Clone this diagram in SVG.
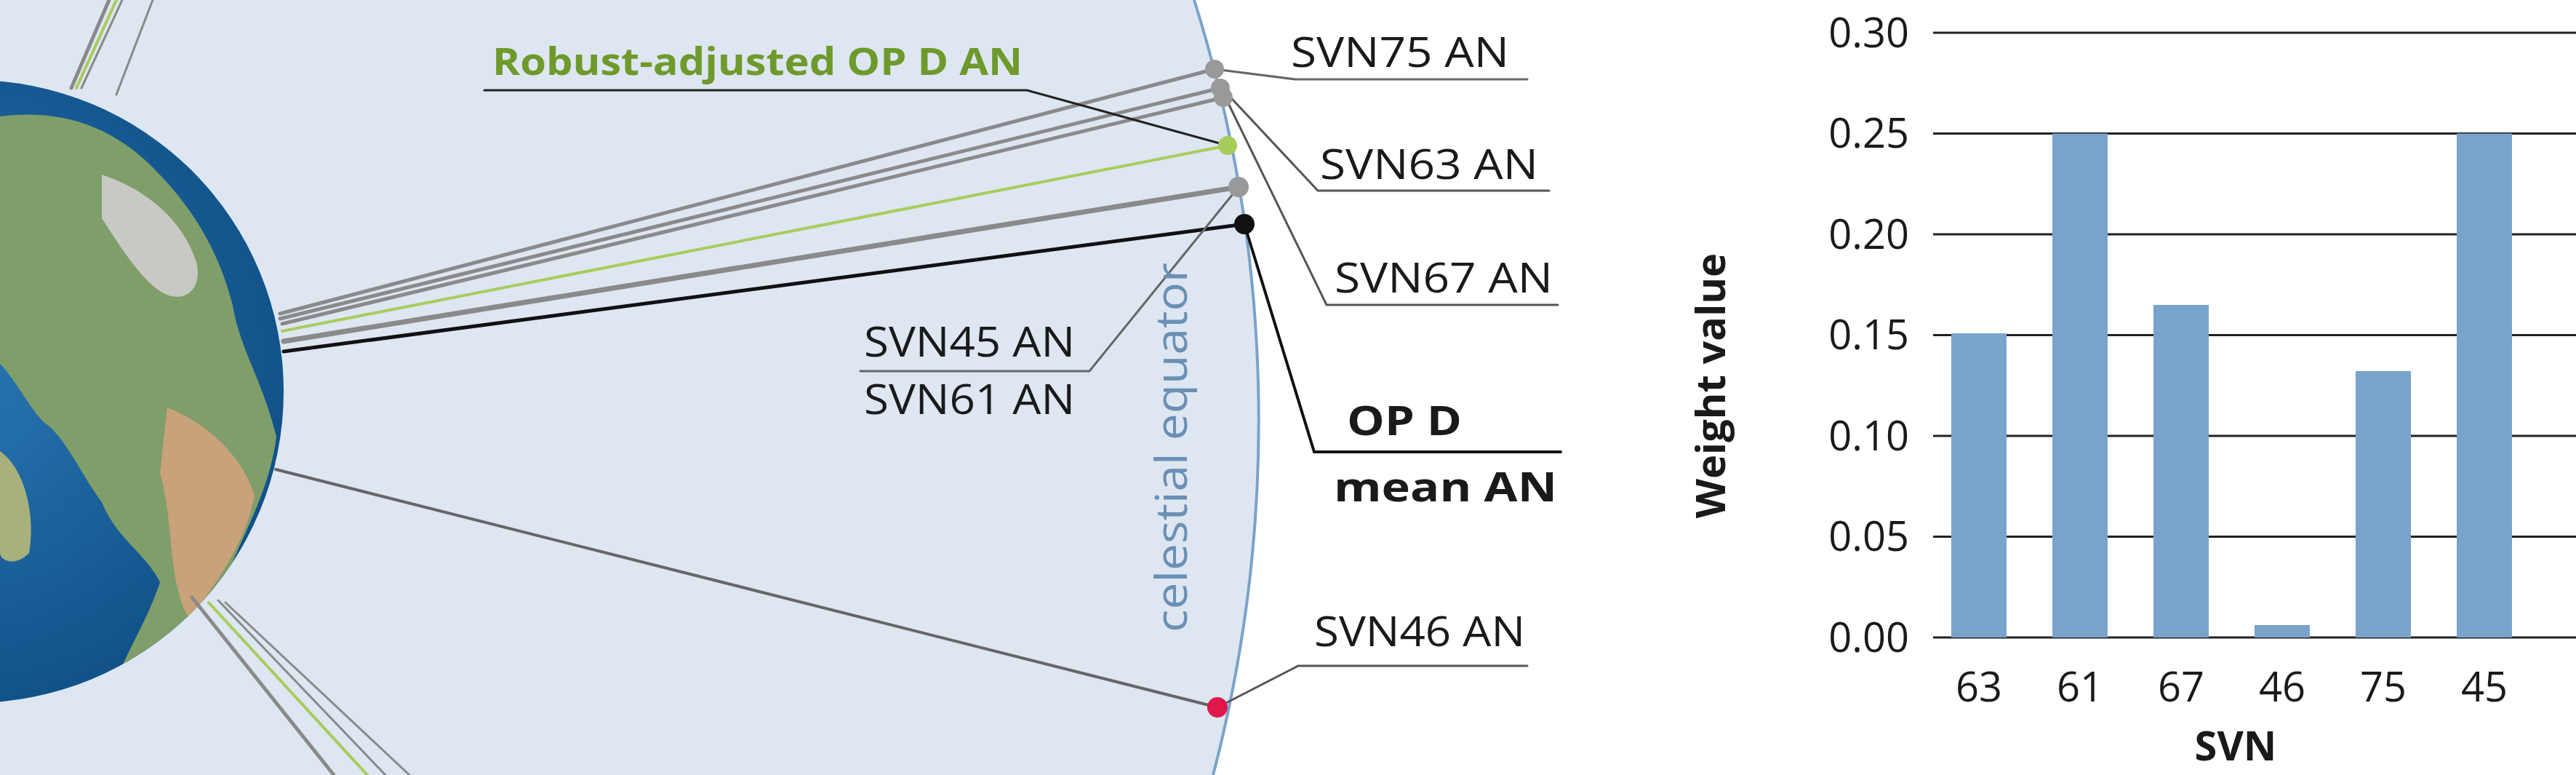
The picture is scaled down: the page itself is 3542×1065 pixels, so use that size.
<svg xmlns="http://www.w3.org/2000/svg" width="3542" height="1065" viewBox="0 0 3542 1065">
<defs>
<style>
.t{font-family:"Open Sans","Liberation Sans",sans-serif;fill:#1a1a1a}
.lbl{font-size:56px}
.b{font-weight:bold}
.ln{fill:none;stroke-linecap:round}
.g{stroke:#8a8a8a;stroke-width:5}
.gt{stroke:#8a8a8a;stroke-width:3}
.k{stroke:#111;stroke-width:4}
.gr{stroke:#a8cc5a;stroke-width:4}
.ul{stroke:#222;stroke-width:3}
.grid{stroke:#222;stroke-width:3}
.bar{fill:#7aa3cc}
</style>
<radialGradient id="ocean" cx="0.45" cy="0.45" r="0.6">
<stop offset="0" stop-color="#2a78b5"/><stop offset="1" stop-color="#0f4f86"/>
</radialGradient>
<clipPath id="ec"><circle cx="-38" cy="538" r="428"/></clipPath>
</defs>
<rect width="3542" height="1065" fill="#fff"/>
<g id="sky">
<path d="M0,0 L1642,0 A1925,1925 0 0 1 1668,1065 L0,1065 Z" fill="#dde6f1"/>
<path d="M1642,0 A1925,1925 0 0 1 1668,1065" fill="none" stroke="#7ba3c8" stroke-width="4"/>
</g>
<g id="earth">
<circle cx="-38" cy="538" r="428" fill="url(#ocean)"/>
<g clip-path="url(#ec)">
<path d="M0,160 C80,150 150,170 210,230 C260,280 300,340 320,420 C330,480 360,520 380,600 C370,680 330,740 300,820 C270,880 230,920 200,960 L150,960 C170,900 200,860 220,800 C200,760 160,740 140,690 C110,650 90,600 60,580 C40,560 20,520 0,500 Z" fill="#7f9e6a"/>
<path d="M140,240 C200,260 250,300 270,360 C280,400 250,420 220,400 C190,380 160,330 140,300 Z" fill="#c8c8c4"/>
<path d="M230,560 C280,580 330,620 350,680 C340,740 300,800 260,850 C230,800 240,720 220,650 Z" fill="#c9a27a"/>
<path d="M0,620 C30,640 50,700 40,760 C20,780 0,770 0,760 Z" fill="#a8b07c"/>
</g>
</g>
<g id="connectors">
<line class="ln g" x1="98" y1="121" x2="150" y2="0"/>
<line class="ln gr" x1="105" y1="121" x2="160" y2="0"/>
<line class="ln gt" x1="112" y1="121" x2="168" y2="0"/>
<line class="ln gt" x1="160" y1="130" x2="210" y2="0"/>
<line class="ln g" x1="264" y1="821" x2="459" y2="1065"/>
<line class="ln gr" x1="287" y1="828" x2="505" y2="1065"/>
<line class="ln gt" x1="300" y1="825" x2="530" y2="1065"/>
<line class="ln gt" x1="310" y1="828" x2="563" y2="1065"/>
<line class="ln g" x1="385" y1="431" x2="1670" y2="95"/>
<line class="ln g" x1="385" y1="438" x2="1678" y2="121"/>
<line class="ln g" x1="388" y1="445" x2="1682" y2="134"/>
<line class="ln gr" x1="388" y1="455" x2="1688" y2="200"/>
<line class="ln g" x1="390" y1="469" x2="1703" y2="257" style="stroke-width:7"/>
<line class="ln k" x1="390" y1="483" x2="1711" y2="308" style="stroke-width:5"/>
<line class="ln g" x1="379" y1="645" x2="1674" y2="972" style="stroke:#666;stroke-width:4"/>
<polyline class="ln ul" points="666,124 1412,124 1688,200"/>
<polyline class="ln ul" points="1670,95 1781,109 2100,109" style="stroke:#666"/>
<polyline class="ln ul" points="1681,122 1812,262 2130,262" style="stroke:#555"/>
<polyline class="ln ul" points="1686,136 1824,419 2142,419" style="stroke:#555"/>
<polyline class="ln ul" points="1183,510 1498,510 1703,257" style="stroke:#666"/>
<polyline class="ln k" points="1711,308 1807,621 2146,621"/>
<polyline class="ln ul" points="1674,972 1785,915 2100,915" style="stroke:#555"/>
</g>
<g id="points">
<circle cx="1670" cy="95" r="13" fill="#999"/>
<circle cx="1678" cy="121" r="13" fill="#999"/>
<circle cx="1682" cy="134" r="13" fill="#999"/>
<circle cx="1688" cy="200" r="13" fill="#a8cc5a"/>
<circle cx="1703" cy="257" r="14" fill="#999"/>
<circle cx="1711" cy="308" r="14" fill="#111"/>
<circle cx="1674" cy="972" r="14" fill="#e0174a"/>
</g>
<g id="labels">
<text class="t b" x="677" y="103" font-size="52" style="fill:#6e9a2c" textLength="729" lengthAdjust="spacingAndGlyphs">Robust-adjusted OP D AN</text>
<text class="t lbl" x="1775" y="92" textLength="300" lengthAdjust="spacingAndGlyphs">SVN75 AN</text>
<text class="t lbl" x="1815" y="246" textLength="300" lengthAdjust="spacingAndGlyphs">SVN63 AN</text>
<text class="t lbl" x="1835" y="402" textLength="300" lengthAdjust="spacingAndGlyphs">SVN67 AN</text>
<text class="t lbl" x="1188" y="490" textLength="290" lengthAdjust="spacingAndGlyphs">SVN45 AN</text>
<text class="t lbl" x="1188" y="569" textLength="290" lengthAdjust="spacingAndGlyphs">SVN61 AN</text>
<text class="t lbl b" x="1852" y="598" textLength="158" lengthAdjust="spacingAndGlyphs">OP D</text>
<text class="t lbl b" x="1834" y="689" textLength="307" lengthAdjust="spacingAndGlyphs">mean AN</text>
<text class="t lbl" x="1807" y="888" textLength="290" lengthAdjust="spacingAndGlyphs">SVN46 AN</text>
<text class="t" transform="translate(1632,615) rotate(-90)" text-anchor="middle" font-size="60" style="fill:#6b8fb5" textLength="508" lengthAdjust="spacingAndGlyphs">celestial equator</text>
</g>
<g id="chart">
<g class="grid">
<line x1="2658" y1="45" x2="3542" y2="45"/>
<line x1="2658" y1="183.5" x2="3542" y2="183.5"/>
<line x1="2658" y1="322" x2="3542" y2="322"/>
<line x1="2658" y1="460.5" x2="3542" y2="460.5"/>
<line x1="2658" y1="599" x2="3542" y2="599"/>
<line x1="2658" y1="737.5" x2="3542" y2="737.5"/>
<line x1="2658" y1="876" x2="3542" y2="876"/>
</g>
<g class="t lbl" text-anchor="end">
<text x="2625" y="65">0.30</text>
<text x="2625" y="203">0.25</text>
<text x="2625" y="342">0.20</text>
<text x="2625" y="480">0.15</text>
<text x="2625" y="619">0.10</text>
<text x="2625" y="757">0.05</text>
<text x="2625" y="896">0.00</text>
</g>
<rect class="bar" x="2683" y="458" width="76" height="418"/>
<rect class="bar" x="2822" y="183.5" width="76" height="692.5"/>
<rect class="bar" x="2961" y="419" width="76" height="457"/>
<rect class="bar" x="3100" y="859" width="76" height="17"/>
<rect class="bar" x="3239" y="510" width="76" height="366"/>
<rect class="bar" x="3378" y="183.5" width="76" height="692.5"/>
<g class="t lbl" text-anchor="middle">
<text x="2721" y="964">63</text>
<text x="2860" y="964">61</text>
<text x="2999" y="964">67</text>
<text x="3138" y="964">46</text>
<text x="3277" y="964">75</text>
<text x="3416" y="964">45</text>
</g>
<text class="t lbl b" x="3074" y="1045" text-anchor="middle">SVN</text>
<text class="t lbl b" transform="translate(2372,530) rotate(-90)" text-anchor="middle">Weight value</text>
</g>
</svg>
